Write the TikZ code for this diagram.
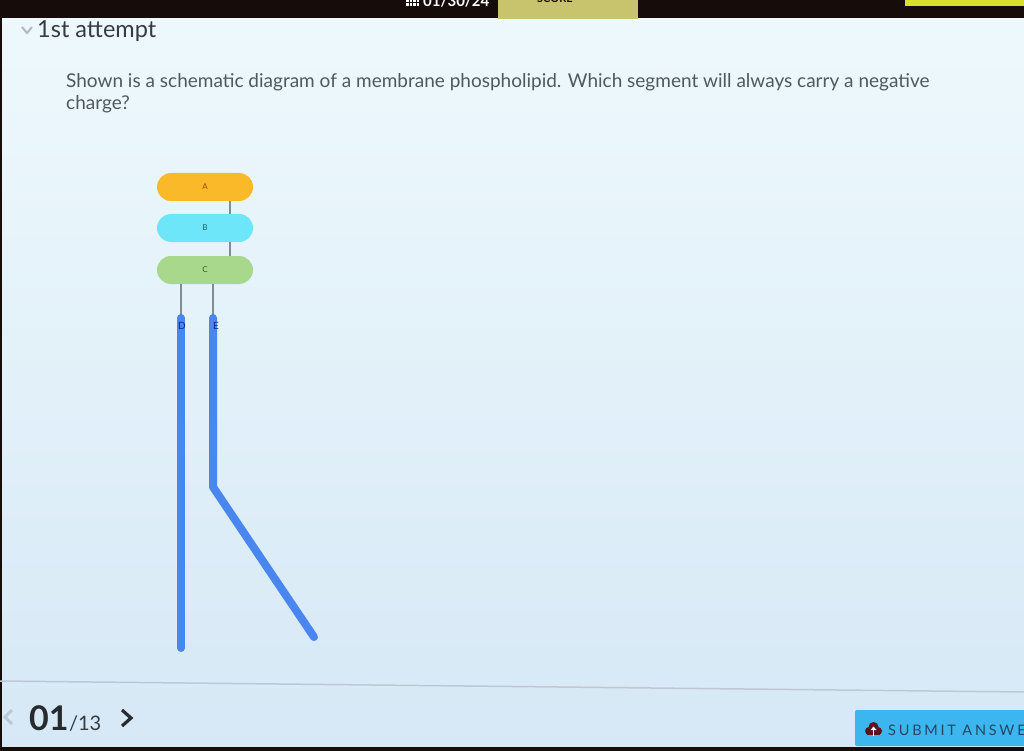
\documentclass[tikz,border=0pt]{standalone}
\usepackage{fontspec}
\setmainfont{Lato}
\definecolor{bgtop}{RGB}{238,249,252}
\definecolor{bgbot}{RGB}{214,232,246}
\definecolor{topdark}{RGB}{22,12,10}
\definecolor{scorey}{RGB}{200,196,110}
\definecolor{limey}{RGB}{215,225,40}
\definecolor{txtgrey}{RGB}{80,88,96}
\definecolor{headgrey}{RGB}{55,60,66}
\definecolor{pillA}{RGB}{250,185,40}
\definecolor{pillB}{RGB}{110,230,250}
\definecolor{pillC}{RGB}{168,216,140}
\definecolor{lblA}{RGB}{130,80,10}
\definecolor{lblB}{RGB}{20,100,120}
\definecolor{lblC}{RGB}{50,90,50}
\definecolor{tailblue}{RGB}{74,134,240}
\definecolor{taillbl}{RGB}{20,40,130}
\definecolor{linkgrey}{RGB}{130,140,150}
\definecolor{sepgrey}{RGB}{190,200,210}
\definecolor{btnblue}{RGB}{60,182,238}
\definecolor{btntxt}{RGB}{38,70,100}
\definecolor{iconred}{RGB}{90,20,30}
\begin{document}
\begin{tikzpicture}[x=1pt,y=-1pt,
  pill/.style={rectangle, rounded corners=14pt, minimum width=96pt, minimum height=28pt, inner sep=0pt, font=\fontsize{8}{8}\selectfont},
  link/.style={draw=linkgrey, line width=1.3pt},
  tail/.style={draw=tailblue, line width=8pt, line cap=round, line join=round},
  taillabel/.style={font=\fontsize{10}{10}\selectfont, text=taillbl, inner sep=0pt}]
\useasboundingbox (0,0) rectangle (1024,751);
\clip (0,0) rectangle (1024,751);
\shade[top color=bgtop, bottom color=bgbot] (0,0) rectangle (1024,751);
% top bar
\fill[topdark] (0,0) rectangle (1024,18);
\fill[limey] (905,0) rectangle (1024,6);
\fill[white] (406,-4) rectangle (419,6);
\foreach \xx in {409,412.5,416} \draw[topdark, line width=0.6pt] (\xx,-4) -- (\xx,6);
\draw[topdark, line width=0.6pt] (406,2) -- (419,2);
\node[anchor=base west, text=white, inner sep=0pt, font=\bfseries\fontsize{15}{15}\selectfont] (date) at (423,7) {01/30/24};
\fill[scorey] (498,0) rectangle (638,19);
\node[anchor=base west, text=topdark, inner sep=0pt, font=\bfseries\fontsize{11}{11}\selectfont] (score) at (537,3) {SCORE};
\fill[topdark] (0,0) rectangle (2,751);
\fill[topdark] (0,747) rectangle (1024,751);
% header
\draw[sepgrey!80!gray, line width=2pt] (22,27) -- (27,33) -- (32,27);
\node[anchor=base west, inner sep=0pt, text=headgrey, font=\fontsize{23.5}{23.5}\selectfont] (head) at (37,38) {1st attempt};
% question
\node[anchor=base west, inner sep=0pt, text=txtgrey, font=\fontsize{19}{22}\selectfont] (q1) at (66,88) {Shown is a schematic diagram of a membrane phospholipid. Which segment will always carry a negative};
\node[anchor=base west, inner sep=0pt, text=txtgrey, font=\fontsize{19}{22}\selectfont] (q2) at (66,110) {charge?};
% diagram
\node[pill, fill=pillA, text=lblA] (A) at (205,187) {A};
\node[pill, fill=pillB, text=lblB] (B) at (205,228) {B};
\node[pill, fill=pillC, text=lblC] (C) at (205,270) {C};
\draw[link] (A.south -| 230,0) -- (B.north -| 230,0);
\draw[link] (B.south -| 230,0) -- (C.north -| 230,0);
\coordinate (d0) at (181,318);
\coordinate (d1) at (181,648);
\coordinate (e0) at (213,318);
\coordinate (e1) at (213,487);
\coordinate (e2) at (314,637);
\draw[link] (C.south -| d0) -- (d0);
\draw[link] (C.south -| e0) -- (e0);
\draw[tail] (d0) -- (d1);
\draw[tail] (e0) -- (e1) -- (e2);
\node[taillabel] (D) at (182,326) {D};
\node[taillabel] (E) at (216,326) {E};
% separator
\draw[sepgrey, line width=1.5pt] (0,681) -- (1024,692);
% pager
\draw[sepgrey, line width=3pt] (12,710) -- (5,717) -- (12,724);
\node[anchor=base west, inner sep=0pt, text=headgrey!70!black, font=\bfseries\fontsize{34}{34}\selectfont] (page) at (29,730) {01};
\node[anchor=base west, inner sep=0pt, text=headgrey, font=\fontsize{20}{20}\selectfont] (tot) at (page.base east) {/13};
\draw[headgrey!70!black, line width=3.2pt] (122,710) -- (131,718) -- (122,726);
% submit button
\fill[btnblue, rounded corners=2pt] (855,710) rectangle (1040,746);
\fill[iconred] (869,731) circle (4pt) (878,731) circle (4pt) (873.5,727) circle (5pt);
\fill[iconred] (867,731) rectangle (880,735);
\draw[white, line width=1.2pt] (873.5,736) -- (873.5,729);
\fill[white] (870.5,730) -- (873.5,726.5) -- (876.5,730) -- cycle;
\node[anchor=base west, inner sep=0pt, text=btntxt, font=\fontsize{14.5}{14.5}\selectfont\addfontfeatures{LetterSpace=19}] (submit) at (888,735) {SUBMIT ANSWER};
\end{tikzpicture}
\end{document}
